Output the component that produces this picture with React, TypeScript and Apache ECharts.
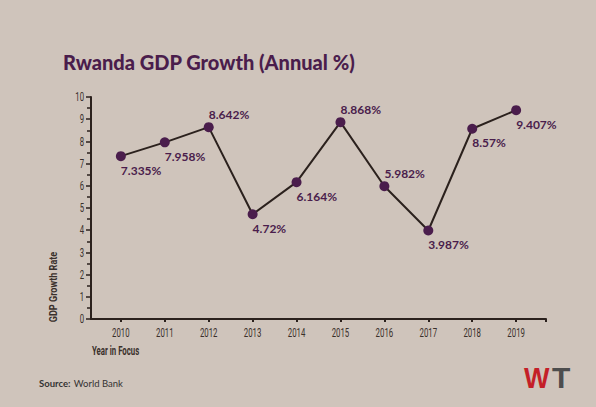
import React, { useEffect, useRef } from "react";
import * as echarts from "echarts";

const years = [2010, 2011, 2012, 2013, 2014, 2015, 2016, 2017, 2018, 2019];
const growth = [7.335, 7.958, 8.642, 4.72, 6.164, 8.868, 5.982, 3.987, 8.57, 9.407];
const labelSides = ["bottom", "bottom", "top", "bottom", "bottom", "top", "top", "bottom", "bottom", "bottom"];
const yTicks = [0, 1, 2, 3, 4, 5, 6, 7, 8, 9, 10];

const PURPLE = "#4a1d4c";
const DARK = "#2b211d";
const TICKTXT = "#3a302b";
const COND = "Roboto, 'DejaVu Sans', sans-serif";

export default function App() {
  const ref = useRef<HTMLDivElement>(null);
  useEffect(() => {
    if (!ref.current) return;
    const chart = echarts.init(ref.current, undefined, { renderer: "svg" });
    const data = years.map((y, i) => ({
      value: [y, growth[i]],
      label: {
        position: labelSides[i],
        distance: labelSides[i] === "top" ? 2 : 3,
        align: "left",
      },
    }));
    chart.setOption({
      animation: false,
      backgroundColor: "#cfc4bb",
      title: {
        text: "Rwanda GDP Growth (Annual %)",
        left: 58,
        top: 47,
        textStyle: { fontFamily: "Lato", fontWeight: 900, fontSize: 20, color: PURPLE },
      },
      grid: { left: 91, right: 50, top: 97, bottom: 88 },
      xAxis: {
        type: "value",
        min: 2009.32,
        max: 2019.68,
        splitLine: { show: false },
        axisLine: { show: true, lineStyle: { color: DARK, width: 2 } },
        axisTick: {
          show: true,
          customValues: [...years, 2019.68],
          length: 3,
          lineStyle: { color: DARK, width: 2 },
        },
        axisLabel: { show: false },
      },
      yAxis: {
        type: "value",
        min: 0,
        max: 10,
        interval: 1,
        splitLine: { show: false },
        axisLine: { show: true, lineStyle: { color: DARK, width: 2 } },
        axisTick: { show: true, length: 5, lineStyle: { color: DARK, width: 1.5 } },
        minorTick: { show: true, splitNumber: 2, length: 4, lineStyle: { color: DARK, width: 1.5 } },
        axisLabel: { show: false },
      },
      series: [
        {
          type: "line",
          data,
          symbol: "circle",
          symbolSize: 10,
          itemStyle: { color: PURPLE },
          lineStyle: { color: DARK, width: 2 },
          label: {
            show: true,
            formatter: (p: any) => p.value[1] + "%",
            color: PURPLE,
            fontFamily: "Lato",
            fontWeight: "bold",
            fontSize: 12,
          },
          z: 3,
        },
      ],
    });

    const axisY = chart.convertToPixel({ yAxisIndex: 0 }, 0) as number;
    const axisX = chart.convertToPixel({ xAxisIndex: 0 }, 2009.32) as number;
    const tickLabels: any[] = [];
    years.forEach((y) => {
      const px = chart.convertToPixel({ xAxisIndex: 0 }, y) as number;
      tickLabels.push({
        type: "text",
        x: px,
        y: axisY + 14,
        scaleX: 0.6,
        style: {
          text: String(y),
          fill: TICKTXT,
          font: `13px ${COND}`,
          align: "center",
          verticalAlign: "middle",
        },
      });
    });
    yTicks.forEach((v) => {
      const py = chart.convertToPixel({ yAxisIndex: 0 }, v) as number;
      tickLabels.push({
        type: "text",
        x: axisX - 7,
        y: py,
        scaleX: 0.62,
        style: {
          text: String(v),
          fill: TICKTXT,
          font: `12.5px ${COND}`,
          align: "right",
          verticalAlign: "middle",
        },
      });
    });

    chart.setOption({
      graphic: [
        ...tickLabels,
        {
          type: "text",
          x: 53,
          y: 287,
          rotation: Math.PI / 2,
          scaleX: 0.79,
          style: {
            text: "GDP Growth Rate",
            fill: TICKTXT,
            font: `bold 11.5px ${COND}`,
            align: "center",
            verticalAlign: "middle",
          },
        },
        {
          type: "text",
          x: 92,
          y: 351,
          scaleX: 0.6,
          style: {
            text: "Year in Focus",
            fill: TICKTXT,
            font: `bold 13px ${COND}`,
            align: "left",
            verticalAlign: "middle",
          },
        },
        {
          type: "text",
          x: 39,
          y: 383,
          style: {
            text: "{b|Source:} {n|World Bank}",
            align: "left",
            verticalAlign: "middle",
            rich: {
              b: { fontFamily: "Lato", fontWeight: "bold", fontSize: 9.5, fill: "#333" },
              n: { fontFamily: "Lato", fontSize: 9.5, fill: "#333" },
            },
          },
        },
        {
          type: "text",
          x: 524,
          y: 377,
          scaleX: 0.9,
          style: {
            text: "W",
            font: "bold 30px 'Liberation Sans', sans-serif",
            fill: "#c41f28",
            align: "left",
            verticalAlign: "middle",
          },
        },
        {
          type: "text",
          x: 552,
          y: 377,
          style: {
            text: "T",
            font: "bold 30px 'Liberation Sans', sans-serif",
            fill: "#4d4d4d",
            align: "left",
            verticalAlign: "middle",
          },
        },
      ],
    });
    return () => chart.dispose();
  }, []);
  return (
    <div
      ref={ref}
      style={{ position: "fixed", left: 0, top: 0, width: 596, height: 407 }}
    />
  );
}
